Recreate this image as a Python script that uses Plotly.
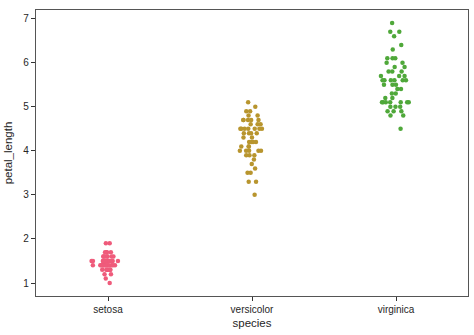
import plotly.graph_objects as go

species = ["setosa", "versicolor", "virginica"]
colors = ["#ef5b7b", "#b8952e", "#4fa83a"]

setosa = [1.4,1.4,1.3,1.5,1.4,1.7,1.4,1.5,1.4,1.5,1.5,1.6,1.4,1.1,1.2,1.5,1.3,1.4,1.7,1.5,
          1.7,1.5,1.0,1.7,1.9,1.6,1.6,1.5,1.4,1.6,1.6,1.5,1.5,1.4,1.5,1.2,1.3,1.4,1.3,1.5,
          1.3,1.3,1.3,1.6,1.9,1.4,1.6,1.4,1.5,1.4]
versicolor = [4.7,4.5,4.9,4.0,4.6,4.5,4.7,3.3,4.6,3.9,3.5,4.2,4.0,4.7,3.6,4.4,4.5,4.1,4.5,3.9,
              4.8,4.0,4.9,4.7,4.3,4.4,4.8,5.0,4.5,3.5,3.8,3.7,3.9,5.1,4.5,4.5,4.7,4.4,4.1,4.0,
              4.4,4.6,4.0,3.3,4.2,4.2,4.2,4.3,3.0,4.1]
virginica = [6.0,5.1,5.9,5.6,5.8,6.6,4.5,6.3,5.8,6.1,5.1,5.3,5.5,5.0,5.1,5.3,5.5,6.7,6.9,5.0,
             5.7,4.9,6.7,4.9,5.7,6.0,4.8,4.9,5.6,5.8,6.1,6.4,5.6,5.1,5.6,6.1,5.6,5.5,4.8,5.4,
             5.6,5.1,5.1,5.9,5.7,5.2,5.0,5.2,5.4,5.1]
values = [setosa, versicolor, virginica]

yticks = [1, 2, 3, 4, 5, 6, 7]

fig = go.Figure()
for name, vals, col in zip(species, values, colors):
    fig.add_trace(go.Box(
        x=[name] * len(vals), y=vals, name=name,
        boxpoints="all", jitter=0.5, pointpos=0,
        fillcolor="rgba(0,0,0,0)", line=dict(color="rgba(0,0,0,0)", width=0),
        marker=dict(color=col, size=4.5, line=dict(width=0)),
        showlegend=False, hoveron="points",
    ))

font = "Liberation Sans, Arial, sans-serif"
fig.update_layout(
    width=474, height=335,
    margin=dict(l=36, r=6, t=10, b=39),
    paper_bgcolor="white", plot_bgcolor="white",
    font=dict(family=font, size=10, color="#262626"),
    boxmode="overlay",
    xaxis=dict(
        categoryorder="array", categoryarray=species, range=[-0.5, 2.5],
        showline=True, mirror=True, linecolor="#555555", linewidth=1.2,
        ticks="outside", ticklen=4, tickcolor="#333333", tickwidth=1,
        showgrid=False, zeroline=False,
        title=dict(text="species", font=dict(size=11.5), standoff=4),
    ),
    yaxis=dict(
        range=[0.705, 7.195], tickvals=yticks,
        showline=True, mirror=True, linecolor="#555555", linewidth=1.2,
        ticks="outside", ticklen=4, tickcolor="#333333", tickwidth=1,
        showgrid=False, zeroline=False,
        title=dict(text="petal_length", font=dict(size=11.5), standoff=8),
    ),
)
fig.write_html("out.html")
